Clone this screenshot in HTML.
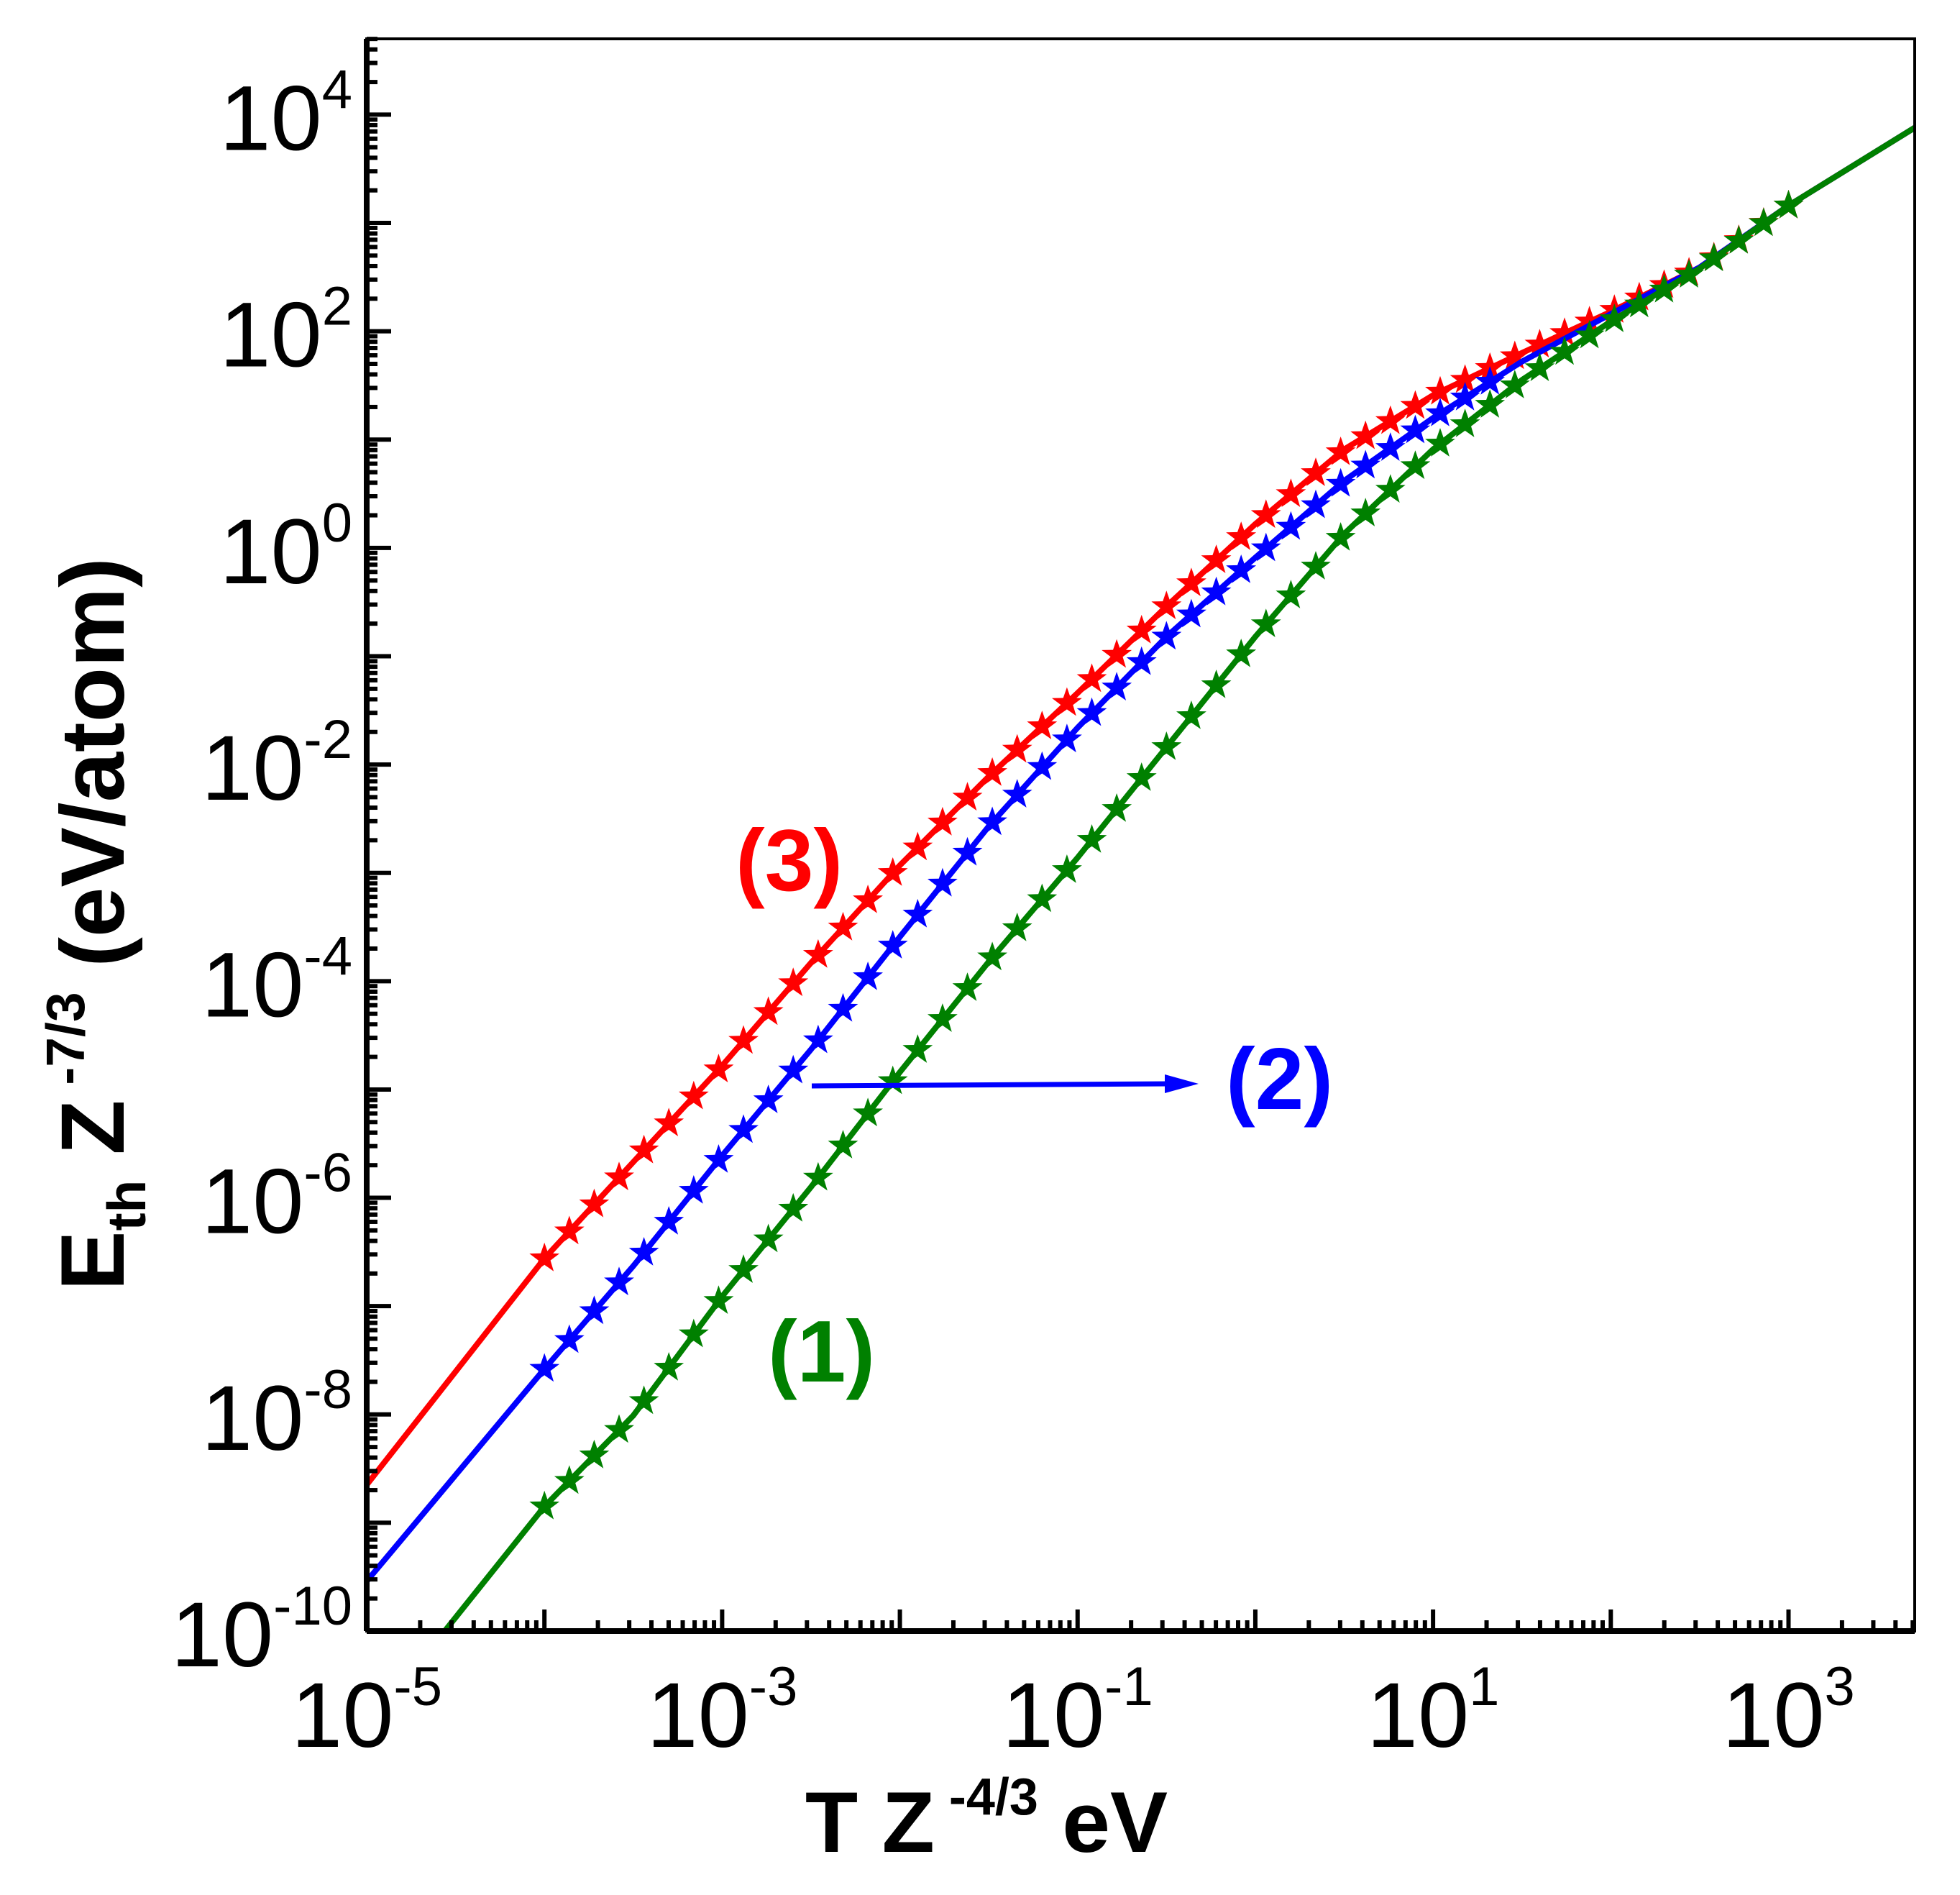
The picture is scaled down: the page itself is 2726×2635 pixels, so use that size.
<!DOCTYPE html>
<html><head><meta charset="utf-8"><style>html,body{margin:0;padding:0;background:#fff}svg{display:block}</style></head>
<body>
<svg id="chart" width="2726" height="2635" viewBox="0 0 2726 2635" xmlns="http://www.w3.org/2000/svg" font-family="'Liberation Sans', Arial, sans-serif">
<rect x="0" y="0" width="2726" height="2635" fill="#fff"/>
<g id="marks"></g>
<g id="axes"></g>
<text x="1372" y="2575" font-size="120" font-weight="bold" text-anchor="middle">T Z<tspan font-size="72" dy="-52"> -4/3</tspan><tspan dy="52"> eV</tspan></text>
<text transform="translate(172,1285) rotate(-90)" font-size="125" font-weight="bold" text-anchor="middle">E<tspan font-size="75" dy="30">th</tspan><tspan dy="-30"> Z</tspan><tspan font-size="75" dy="-55"> -7/3</tspan><tspan dy="55">  (eV/atom)</tspan></text>
<text x="1023" y="1238" font-size="122" font-weight="bold" fill="#ff0000">(3)</text>
<text x="1705" y="1542" font-size="122" font-weight="bold" fill="#0000ff">(2)</text>
<text x="1068" y="1921" font-size="122" font-weight="bold" fill="#008000">(1)</text>
<line x1="1129" y1="1510" x2="1625" y2="1507" stroke="#0000ff" stroke-width="7"/>
<polygon points="1620,1494 1667,1507 1620,1520" fill="#0000ff"/>
</svg>
<script>
// log10(T) sample points
const logT = [-5,-4,-3.5,-3,-2.5,-2,-1.5,-1,-0.5,0,0.5,1,1.5,2,2.5,3,3.71];
// log10(E) for each curve
const curve3 = [-8.65,-6.56,-5.67,-4.78,-3.83,-2.93,-2.11,-1.34,-0.54,0.22,0.91,1.41,1.80,2.18,2.59,3.16,3.88];
const curve2 = [-9.54,-7.58,-6.63,-5.61,-4.63,-3.59,-2.57,-1.66,-0.82,-0.09,0.62,1.20,1.72,2.16,2.59,3.16,3.88];
const curve1 = [-10.9,-8.85,-8.01,-6.91,-5.90,-4.84,-3.82,-2.86,-1.84,-0.82,0.13,0.91,1.55,2.09,2.58,3.16,3.88];
// marker ranges (log10 T)
const markerStart = [-4, -4, -4];
const markerEnd = [3.05, 1.4, 3.05];
const markerStep = 0.14;
const xTickLabels = ["-5","-3","-1","1","3"];
const yTickLabels = ["-10","-8","-6","-4","-2","0","2","4"];

const L=510,R=2663,T=54,B=2268;
const xmin=-5,xmax=3.71,ymin=-10,ymax=4.7;
const sx=v=>L+(v-xmin)/(xmax-xmin)*(R-L);
const sy=v=>B-(v-ymin)/(ymax-ymin)*(B-T);
const NS="http://www.w3.org/2000/svg";
const marks=document.getElementById('marks');
const axes=document.getElementById('axes');
function mk(tag,attrs,parent){const e=document.createElementNS(NS,tag);for(const k in attrs)e.setAttribute(k,attrs[k]);parent.appendChild(e);return e;}
function interp(xs,ys,x){for(let i=0;i<xs.length-1;i++){if(x>=xs[i]&&x<=xs[i+1]){const t=(x-xs[i])/(xs[i+1]-xs[i]);return ys[i]+t*(ys[i+1]-ys[i]);}}return ys[ys.length-1];}
function star(cx,cy,r){let p=[];for(let i=0;i<10;i++){const a=-Math.PI/2+i*Math.PI/5;const rr=i%2?r*0.4:r;p.push((cx+rr*Math.cos(a)).toFixed(1)+','+(cy+rr*Math.sin(a)).toFixed(1));}return p.join(' ');}
const clip=mk('clipPath',{id:'pc'},marks);mk('rect',{x:L,y:T,width:R-L,height:B-T},clip);
const series=[[curve3,'#ff0000','curve-3'],[curve2,'#0000ff','curve-2'],[curve1,'#008000','curve-1']];
series.forEach((s,si)=>{
  const g=mk('g',{'clip-path':'url(#pc)'},marks);
  
  
  const d=logT.map((x,i)=>(i?'L':'M')+sx(x).toFixed(1)+','+sy(s[0][i]).toFixed(1)).join(' ');
  const p=mk('path',{d:d,fill:'none',stroke:s[1],'stroke-width':8,'stroke-linejoin':'round'},g);
  
  
  for(let x=markerStart[si];x<=markerEnd[si]+1e-9;x+=markerStep){
    const y=interp(logT,s[0],x);
    const st=mk('polygon',{points:star(sx(x),sy(y),22),fill:s[1]},g);
    
    
  }
});
// frame
const fr=mk('rect',{x:L,y:T,width:R-L,height:B-T,fill:'none',stroke:'#000','stroke-width':4},axes);


const xa=mk('line',{x1:L,y1:B,x2:R,y2:B,stroke:'#000','stroke-width':8},axes);


const ya=mk('line',{x1:L,y1:T,x2:L,y2:B,stroke:'#000','stroke-width':8},axes);


// x ticks
for(let d=-5;d<=3;d++){for(let m=1;m<10;m++){const v=d+Math.log10(m);if(v>xmax)break;const len=m===1?30:15;
  const t=mk('line',{x1:sx(v),y1:B,x2:sx(v),y2:B-len,stroke:'#000','stroke-width':6},axes);
  
  }}
xTickLabels.forEach(lab=>{const v=+lab;const tx=mk('text',{x:sx(v),y:2429,'font-size':128,'text-anchor':'middle'},axes);
  
  
  tx.innerHTML='10<tspan font-size="76" dy="-58">'+lab+'</tspan>';});
// y ticks
for(let d=-10;d<=4;d++){for(let m=1;m<10;m++){const v=d+Math.log10(m);if(v>ymax)break;const len=m===1?34:15;
  const t=mk('line',{x1:L,y1:sy(v),x2:L+len,y2:sy(v),stroke:'#000','stroke-width':6},axes);
  
  }}
yTickLabels.forEach(lab=>{const v=+lab;const tx=mk('text',{x:490,y:sy(v)+49,'font-size':128,'text-anchor':'end'},axes);
  
  
  tx.innerHTML='10<tspan font-size="76" dy="-58">'+lab+'</tspan>';});
</script>
</body></html>
